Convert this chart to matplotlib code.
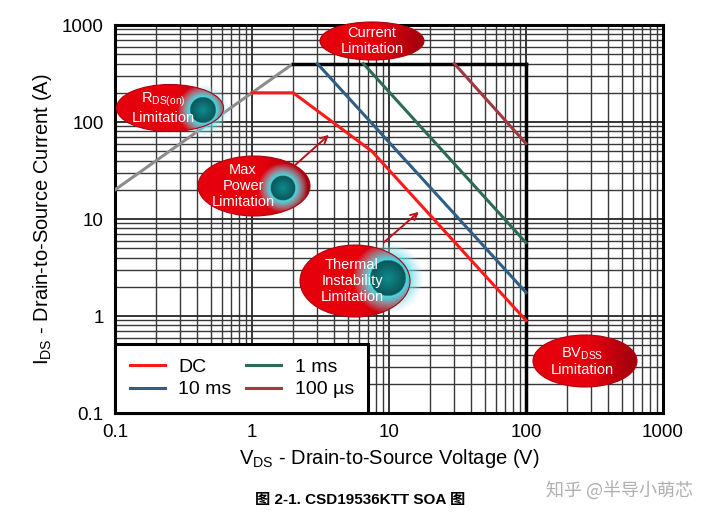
import matplotlib
matplotlib.use("Agg")
import matplotlib.pyplot as plt
from matplotlib.patches import Ellipse
from matplotlib.ticker import LogLocator, NullFormatter
import numpy as np

plt.rcParams['font.family'] = ['Liberation Sans', 'Noto Sans CJK SC', 'DejaVu Sans']

# ---- data ----
rds_v = [0.1, 2]
rds_i = [20, 400]
cur_v = [2, 100]
cur_i = [400, 400]
bv_v = [100, 100]
bv_i = [400, 0.1]
dc_v = [1, 2, 7.5, 100]
dc_i = [200, 200, 50, 0.9]
ms10_v = [3, 100]
ms10_i = [400, 1.75]
ms1_v = [6.5, 100]
ms1_i = [400, 5.7]
us100_v = [30, 100]
us100_i = [400, 60]
xticks = [0.1, 1, 10, 100, 1000]
xticklabels = ['0.1', '1', '10', '100', '1000']
yticks = [0.1, 1, 10, 100, 1000]
yticklabels = ['0.1', '1', '10', '100', '1000']

fig = plt.figure(figsize=(7.2, 5.22), dpi=100)
ax = fig.add_axes([0.1597, 0.2088, 0.7611, 0.7433])
ax.set_xscale('log')
ax.set_yscale('log')
ax.set_xlim(0.1, 1000)
ax.set_ylim(0.1, 1000)
ax.set_xticks(xticks)
ax.set_xticklabels(xticklabels)
ax.set_yticks(yticks)
ax.set_yticklabels(yticklabels)
ax.xaxis.set_minor_locator(LogLocator(base=10, subs=np.arange(2, 10)))
ax.yaxis.set_minor_locator(LogLocator(base=10, subs=np.arange(2, 10)))
ax.xaxis.set_minor_formatter(NullFormatter())
ax.yaxis.set_minor_formatter(NullFormatter())
ax.tick_params(which='both', length=0, labelsize=13.5, pad=8)
ax.grid(True, which='major', color='#262626', lw=1.3)
ax.grid(True, which='minor', color='#383838', lw=1.0)
ax.set_axisbelow(True)
for s in ax.spines.values():
    s.set_linewidth(2.2)
    s.set_color('black')

ax.plot(rds_v, rds_i, color='#8c8c8c', lw=2.2, zorder=3)
ax.plot(cur_v, cur_i, color='black', lw=2.5, zorder=3)
ax.plot(bv_v, bv_i, color='black', lw=2.5, zorder=3)
l_dc, = ax.plot(dc_v, dc_i, color='#ff1a1a', lw=2.2, zorder=4, label='DC')
l_10, = ax.plot(ms10_v, ms10_i, color='#2f5f86', lw=2.2, zorder=4, label='10 ms')
l_1, = ax.plot(ms1_v, ms1_i, color='#2d6b55', lw=2.2, zorder=4, label='1 ms')
l_100, = ax.plot(us100_v, us100_i, color='#a03a40', lw=2.2, zorder=4, label='100 µs')

leg = ax.legend(handles=[l_dc, l_10, l_1, l_100], ncol=2, loc='lower left',
                bbox_to_anchor=(0.0, 0.0),
                fontsize=14, frameon=True, fancybox=False, framealpha=1,
                edgecolor='black', borderaxespad=0, handlelength=1.8,
                columnspacing=0.75, handletextpad=0.7, labelspacing=0.25,
                borderpad=0.75)
leg.get_frame().set_linewidth(2.2)
leg.set_zorder(6)

ax.set_xlabel('V$_{\\mathregular{DS}}$ - Drain-to-Source Voltage (V)', fontsize=14.5, labelpad=4)
ax.set_ylabel('I$_{\\mathregular{DS}}$ - Drain-to-Source Current (A)', fontsize=14.5, labelpad=6)

# ---- overlay in pixel coordinates for the annotation bubbles ----
ov = fig.add_axes([0, 0, 1, 1], zorder=5)
ov.axis('off')
ov.patch.set_alpha(0)

def red_grad():
    g = np.linspace(0, 1, 64)
    r = 0.90 - 0.28 * np.clip((g - 0.55) / 0.45, 0, 1)
    img = np.zeros((2, 64, 3))
    img[..., 0] = r
    img[..., 1] = 0.0
    img[..., 2] = 0.05
    return img

def blob(cx, cy, r):
    n = 121
    yy, xx = np.mgrid[-1:1:n * 1j, -1:1:n * 1j]
    d = np.sqrt(xx ** 2 + yy ** 2)
    img = np.zeros((n, n, 4))
    c0 = 0.5
    core = np.clip(d / c0, 0, 1)
    glow = d > c0
    tg = np.clip((d - c0) / (1 - c0), 0, 1)
    img[..., 0] = np.where(glow, 0.25 + 0.45 * tg, 0.05)
    img[..., 1] = np.where(glow, 0.88, 0.55 - 0.22 * core)
    img[..., 2] = np.where(glow, 0.92, 0.56 - 0.22 * core)
    img[..., 3] = np.where(glow, np.clip(1.0 * (1 - tg) ** 0.9, 0, 1), 1.0)
    ov.imshow(img, extent=[cx - r, cx + r, cy + r, cy - r], zorder=3,
              interpolation='bilinear', aspect='auto')

def bubble(cx, cy, w, h, text, tx=None, glow=None, fs=10.5):
    e = Ellipse((cx, cy), w, h, facecolor='none', edgecolor='#b00010', lw=0.8, zorder=4)
    ov.add_patch(e)
    im = ov.imshow(red_grad(), extent=[cx - w / 2, cx + w / 2, cy + h / 2, cy - h / 2],
                   zorder=2, interpolation='bilinear', aspect='auto')
    im.set_clip_path(e)
    if glow is not None:
        blob(*glow)
    ov.text(tx if tx is not None else cx, cy, text, ha='center', va='center',
            color='white', fontsize=fs, zorder=6, linespacing=1.15)

bubble(372, 41, 104, 38, 'Current\nLimitation')
bubble(170, 108, 107, 47, 'R$_{\\mathregular{DS(on)}}$\nLimitation', tx=163, glow=(203, 110, 26))
bubble(254, 186, 112, 60, 'Max\nPower\nLimitation', tx=243, glow=(283, 188, 25))
bubble(355, 281, 110, 72, 'Thermal\nInstability\nLimitation', tx=352, glow=(388, 278, 36))
bubble(585, 361, 104, 52, 'BV$_{\\mathregular{DSS}}$\nLimitation', tx=582)

ov.set_xlim(0, 720)
ov.set_ylim(522, 0)

arrow_kw = dict(arrowstyle='->', color='#c0101a', lw=1.4, mutation_scale=12)
ov.annotate('', xy=(331, 133), xytext=(293, 167), arrowprops=arrow_kw, zorder=7)
ov.annotate('', xy=(421, 210), xytext=(382, 244), arrowprops=arrow_kw, zorder=7)

fig.text(0.5, 1 - 500 / 522, '图 2-1. CSD19536KTT SOA 图', ha='center', va='center',
         fontsize=11, fontweight='bold',
         family=['Liberation Sans', 'Noto Sans CJK SC'])
fig.text(620 / 720, 1 - 490 / 522, '知乎 @半导小萌芯', ha='center', va='center',
         fontsize=13, color='#b0b0b0', family=['Noto Sans CJK SC'])

fig.savefig('out.png', dpi=100)
